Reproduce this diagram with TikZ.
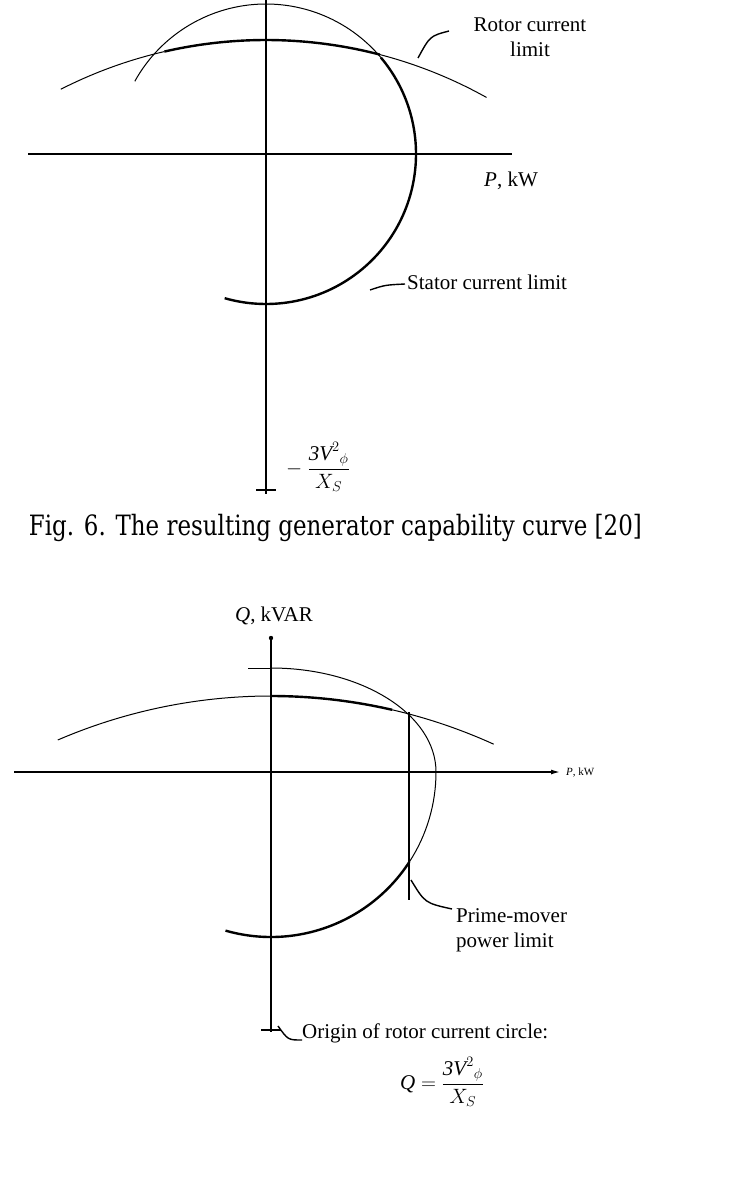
\documentclass[tikz,border=0pt]{standalone}
\usepackage{amsmath}
\usepackage{fontspec}
\setmainfont{Liberation Serif}
\newfontfamily\capfont{DejaVu Serif}
\usetikzlibrary{arrows.meta}
\begin{document}
\begin{tikzpicture}[x=1pt,y=-1pt,
  thin/.style={line width=1pt},
  thick/.style={line width=2.4pt},
  ax/.style={line width=1.4pt},
  lbl/.style={font=\fontsize{21}{25}\selectfont, inner sep=0pt},
  lead/.style={line width=1.4pt}]
\useasboundingbox (0,0) rectangle (738,1185);
% ---------- top figure
\coordinate (O1) at (266,154);
\coordinate (R1) at (266,492);
\draw[ax] (266,0) -- (266,494);
\draw[ax] (28,154) -- (512,154);
\draw[ax] (256,490) -- (276,490);
\draw[thin] (R1) ++(-117:452) arc[start angle=-117,end angle=-103,radius=452];
\draw[thick] (R1) ++(-103:452) arc[start angle=-103,end angle=-75.4,radius=452];
\draw[thin] (R1) ++(-75.4:452) arc[start angle=-75.4,end angle=-60.8,radius=452];
\draw[thin] (O1) ++(-151:150) arc[start angle=-151,end angle=-40,radius=150];
\draw[thick] (O1) ++(-40:150) arc[start angle=-40,end angle=106,radius=150];
\node[lbl,align=center] (rl) at (530,37) {Rotor current\\limit};
\coordinate (rp) at (418,58);
\draw[lead] (449,31) .. controls (430,36) .. (rp);
\node[lbl,anchor=west] (sl) at (407,282) {Stator current limit};
\coordinate (sp) at (370,290);
\draw[lead] (405,284) .. controls (385,285) .. (sp);
\node[lbl,anchor=west] (pk) at (484,181) {\textit{P}, kW};
\node[lbl,anchor=west] (xs1) at (286,467) {$-\ \dfrac{\mathit{3V}^2{}_{\phi}}{X_S}$};
\node[anchor=east,inner sep=0pt,font=\capfont\fontsize{28}{32}\selectfont,xscale=0.82] (cap) at (642,528) {Fig. 6. The resulting generator capability curve [20]};
% ---------- bottom figure
\coordinate (O2) at (271,772);
\coordinate (R2) at (271,1235);
\draw[ax] (271,637) -- (271,1032);
\fill (271,638) circle (2.2);
\draw[ax,-{Latex[length=9pt,width=5pt]}] (14,772) -- (560,772);
\draw[ax] (261,1030) -- (281,1030);
\node[lbl,anchor=south] (qk) at (274,625) {\textit{Q}, kVAR};
\node[anchor=west,inner sep=0pt,font=\fontsize{11}{13}\selectfont] (pk2) at (566,773) {\textit{P}, kW};
\draw[thin] (R2) ++(-113.3:539) arc[start angle=-113.3,end angle=-90,radius=539];
\draw[thick] (R2) ++(-90:539) arc[start angle=-90,end angle=-77,radius=539];
\draw[thin] (R2) ++(-77:539) arc[start angle=-77,end angle=-65.6,radius=539];
\draw[thin] (248,668) -- (271,668);
\draw[thin] (O2) ++(-90:104) arc[start angle=-90,end angle=0,x radius=165,y radius=104];
\draw[thin] (O2) ++(0:165) arc[start angle=0,end angle=33,radius=165];
\draw[thick] (O2) ++(33:165) arc[start angle=33,end angle=106,radius=165];
\draw[line width=2.4pt] (409,712) -- (409,900);
\node[lbl,anchor=west,align=left] (pm) at (456,930) {Prime-mover\\power limit};
\coordinate (pmp) at (411,880);
\draw[lead] (452,909) .. controls (425,903) .. (pmp);
\node[lbl,anchor=west] (orl) at (302,1033) {Origin of rotor current circle:};
\coordinate (orp) at (278,1026);
\draw[lead] (302,1040) .. controls (288,1040) .. (orp);
\node[lbl] (eq) at (442,1082) {$\mathit{Q}=\dfrac{\mathit{3V}^2{}_{\phi}}{X_S}$};
\end{tikzpicture}
\end{document}
